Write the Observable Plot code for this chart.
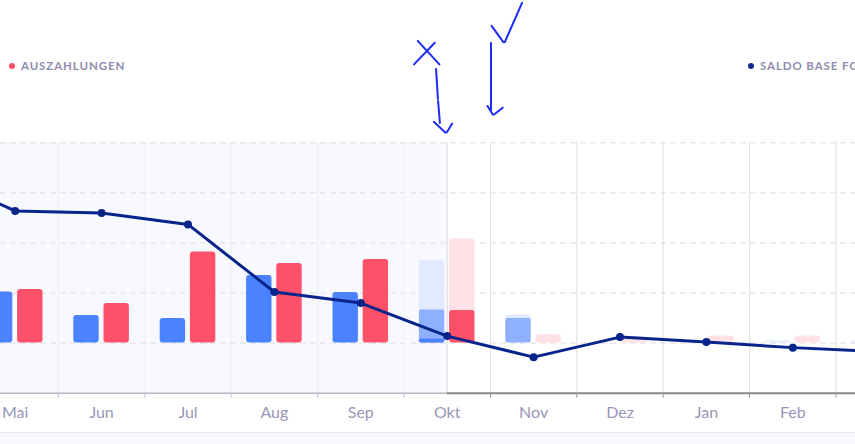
<!DOCTYPE html>
<html>
<head>
<meta charset="utf-8">
<script src="https://cdn.jsdelivr.net/npm/d3@7"></script>
<script src="https://cdn.jsdelivr.net/npm/@observablehq/plot@0.6"></script>
<style>
  html, body { margin: 0; padding: 0; background: #fff; overflow: hidden; width: 855px; height: 444px; }
  #wrap { position: relative; width: 855px; height: 444px; overflow: hidden; font-family: Lato, "Open Sans", sans-serif; }
  #legend { position: relative; height: 100px; }
  .item { position: absolute; top: 59px; display: flex; align-items: center; white-space: nowrap;
          font-family: Lato, sans-serif; font-weight: 700; font-size: 11.5px; letter-spacing: 0.9px; color: #8f8cb0; }
  .dot { width: 6px; height: 6px; border-radius: 50%; margin-right: 6px; }
  #footer { height: 11px; border-top: 1px solid #e3e6ee; background: #f6f8fd; }
  .stroke { position: absolute; width: 2.4px; background: #1c2cf6; border-radius: 1.2px; pointer-events: none; }
</style>
</head>
<body>
<div id="wrap">
  <div id="legend">
    <div class="item" style="left:9px"><span class="dot" style="background:#ff4f66"></span>AUSZAHLUNGEN</div>
    <div class="item" style="left:748px"><span class="dot" style="background:#0b2a8c"></span>SALDO BASE FORECAST</div>
  </div>
  <div id="chart"></div>
  <div id="footer"></div>
  <div id="scribbles"></div>
</div>
<script>
// ---- data ----
const months = ["Apr", "Mai", "Jun", "Jul", "Aug", "Sep", "Okt", "Nov", "Dez", "Jan", "Feb", "Mär"];
const einzahlungenIst      = [null, 10.2, 5.5, 4.9, 13.5, 10.1, 0.8, null, null, null, null, null];
const einzahlungenForecast = [null, null, null, null, null, null, 6.6, 4.9, null, null, null, null];
const einzahlungenPlan     = [null, null, null, null, null, null, 16.5, 5.6, null, null, 0.4, 0.4];
const auszahlungenIst      = [null, 10.7, 7.9, 18.2, 15.9, 16.7, 6.5, null, null, null, null, null];
const auszahlungenPlan     = [null, null, null, null, null, null, 20.8, 1.7, 1.2, 1.4, 1.4, null];
const saldoBaseForecast    = [34.1, 26.4, 26.0, 23.7, 10.2, 8.0, 1.4, -2.8, 1.2, 0.2, -0.9, -1.7];
const yTicks = [0, 10, 20, 30, 40];
const yMin = -10, yMax = 40;
const today = "Okt";
const labelMonths = months.slice(1, 11);

// ---- table ----
const rows = months.map((m, i) => ({
  month: m,
  einIst: einzahlungenIst[i],
  einFc: einzahlungenForecast[i],
  einPlan: einzahlungenPlan[i],
  ausIst: auszahlungenIst[i],
  ausPlan: auszahlungenPlan[i],
  saldo: saldoBaseForecast[i]
}));
const todayIdx = months.indexOf(today);
const pastMonths = months.slice(0, todayIdx);
const futureMonths = months.slice(todayIdx);

const W = 855;
const step = 86.4;
const xRange = [14.7 - 1.5 * step, 14.7 + 10.5 * step];
const half = step / 2;
const inNear = 45.6, inFar = 15.4;

const blueBar = {x: "month", insetLeft: inFar, insetRight: inNear, rx: 3};
const redBar = {x: "month", insetLeft: inNear, insetRight: inFar, rx: 3};
const has = k => d => d[k] != null;

const chart = Plot.plot({
  width: W,
  height: 332,
  marginTop: 42.3,
  marginBottom: 39.3,
  marginLeft: 0,
  marginRight: 0,
  style: {fontFamily: "Lato, sans-serif", overflow: "hidden", background: "transparent"},
  x: {type: "band", domain: months, range: xRange, padding: 0, round: false, axis: null},
  y: {domain: [yMin, yMax], axis: null},
  marks: [
    // past shading
    Plot.barY(pastMonths, {x: d => d, y1: yMin, y2: yMax, fill: "#f8f9fe"}),
    Plot.barY([today], {x: d => d, y1: yMin, y2: yMax, fill: "#f8f9fe", insetRight: half}),
    // grid
    Plot.gridY(yTicks, {stroke: "#dedee3", strokeOpacity: 1, strokeDasharray: "6,4"}),
    Plot.gridX(pastMonths, {dx: half, stroke: "#eceef4", strokeOpacity: 1}),
    Plot.gridX(futureMonths, {dx: half, stroke: "#dedede", strokeOpacity: 1}),
    Plot.ruleX([today], {x: d => d, stroke: "#d9d9d9"}),
    // bottom axis line
    Plot.tickY(pastMonths, {x: d => d, y: yMin, stroke: "#b4b6c0", strokeWidth: 1.5}),
    Plot.tickY([today], {x: d => d, y: yMin, stroke: "#b4b6c0", strokeWidth: 1.5, insetRight: half}),
    Plot.tickY([today], {x: d => d, y: yMin, stroke: "#888", strokeWidth: 2, insetLeft: half}),
    Plot.tickY(futureMonths.slice(1), {x: d => d, y: yMin, stroke: "#888", strokeWidth: 2}),
    Plot.ruleX(pastMonths, {x: d => d, dx: half, y1: yMin, y2: yMin, insetBottom: -5, stroke: "#c4c6ce"}),
    Plot.ruleX(futureMonths, {x: d => d, dx: half, y1: yMin, y2: yMin, insetBottom: -5, stroke: "#9a9a9a"}),
    // bars
    Plot.barY(rows.filter(has("einPlan")), {...blueBar, y: "einPlan", fill: "#e2eaff"}),
    Plot.barY(rows.filter(has("einFc")), {...blueBar, y: "einFc", fill: "#8fb0ff", rx: 2}),
    Plot.barY(rows.filter(has("einIst")), {...blueBar, y: "einIst", fill: "#4a82ff"}),
    Plot.barY(rows.filter(has("ausPlan")), {...redBar, y: "ausPlan", fill: "#ffe1e6"}),
    Plot.barY(rows.filter(has("ausIst")), {...redBar, y: "ausIst", fill: "#ff5169"}),
    // saldo line
    Plot.line(rows, {x: "month", y: "saldo", stroke: "#07248a", strokeWidth: 3, strokeLinejoin: "round"}),
    Plot.dot(rows, {x: "month", y: "saldo", r: 4, fill: "#07248a"}),
    // x labels
    Plot.axisX(labelMonths, {tickSize: 0, tickPadding: 13, fontSize: 16, fill: "#9896b7", label: null, fontFamily: "Lato, sans-serif"})
  ]
});
document.getElementById("chart").appendChild(chart);

// ---- hand-drawn markup overlay (annotation strokes on top of the screenshot) ----
const scribbles = [
  [417, 40, 440, 65], [413, 65, 435, 42],                 // X
  [436, 68, 438, 100], [438, 100, 440, 124],              // arrow 1 shaft
  [433, 121, 446, 133], [446, 133, 452, 123],             // arrow 1 head
  [491, 25, 504, 43], [504, 43, 522, 2],                  // check mark
  [491, 42, 491, 111],                                    // arrow 2 shaft
  [487, 105, 493, 115], [493, 115, 503, 107]              // arrow 2 head
];
const layer = document.getElementById("scribbles");
for (const [x1, y1, x2, y2] of scribbles) {
  const len = Math.hypot(x2 - x1, y2 - y1);
  const ang = Math.atan2(x2 - x1, y2 - y1) * 180 / Math.PI;
  const s = document.createElement("div");
  s.className = "stroke";
  s.style.left = (x1 - 1.2) + "px";
  s.style.top = y1 + "px";
  s.style.height = len + "px";
  s.style.transformOrigin = "1.2px 0";
  s.style.transform = `rotate(${-ang}deg)`;
  layer.appendChild(s);
}
</script>
</body>
</html>
